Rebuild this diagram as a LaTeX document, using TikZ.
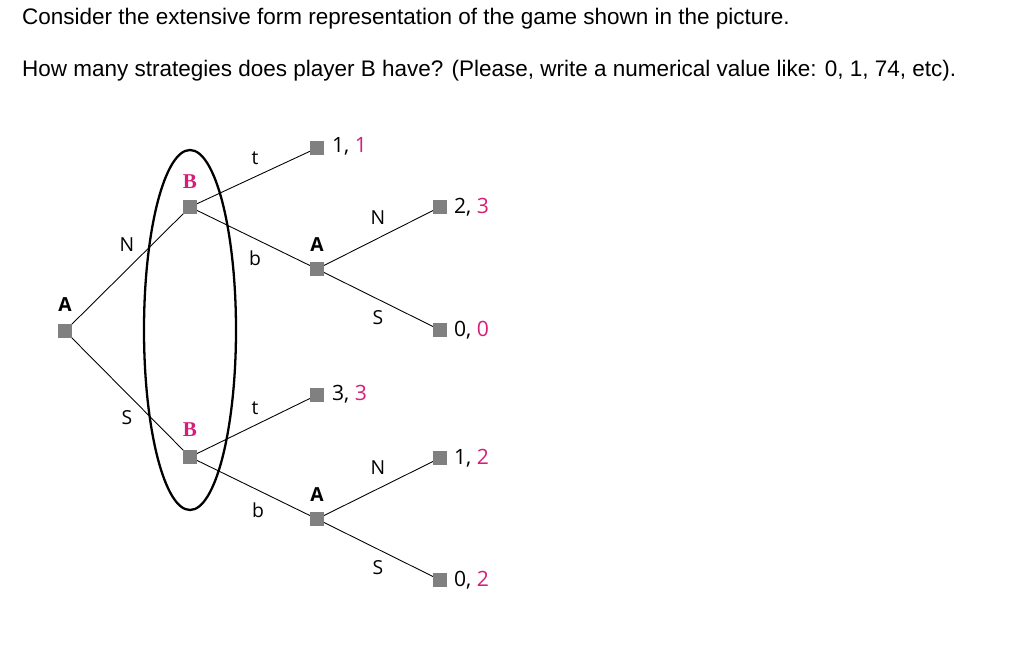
\documentclass[tikz,border=0pt]{standalone}
\usepackage{fontspec}
\setmainfont{Liberation Sans}
\newfontfamily\treefont{Open Sans}
\newfontfamily\serfont{Liberation Serif}
\definecolor{pk}{RGB}{214,30,120}
\definecolor{sq}{RGB}{128,128,128}
\begin{document}
\begin{tikzpicture}[x=0.02cm,y=-0.02cm,
  dec/.style={fill=sq,minimum size=0.28cm,inner sep=0pt},
  lbl/.style={font=\treefont\fontsize{11pt}{13pt}\selectfont},
  pl/.style={font=\treefont\bfseries\fontsize{11pt}{13pt}\selectfont},
  pb/.style={font=\serfont\bfseries\fontsize{12pt}{14pt}\selectfont,text=pk},
  pay/.style={font=\treefont\fontsize{12pt}{14pt}\selectfont,anchor=west,inner sep=1pt},
  edge/.style={line width=0.5pt}]
\useasboundingbox (0,0) rectangle (1024,672);
\node[anchor=west,font=\fontsize{12.8pt}{14pt}\selectfont,inner sep=1pt] (t1) at (20,19) {Consider the extensive form representation of the game shown in the picture.};
\node[anchor=west,font=\fontsize{12.8pt}{14pt}\selectfont,inner sep=1pt] (t2) at (20,71) {How many strategies does player B have? (Please, write a numerical value like: 0, 1, 74, etc).};
\node[dec] (r) at (65,331) {};
\node[dec] (b1) at (190,207) {};
\node[dec] (b2) at (190,457) {};
\node[dec] (l11) at (317,148) {};
\node[dec] (a1) at (317,269) {};
\node[dec] (l23) at (440,207) {};
\node[dec] (l00) at (440,330) {};
\node[dec] (l33) at (317,395) {};
\node[dec] (a2) at (317,519) {};
\node[dec] (l12) at (440,458) {};
\node[dec] (l02) at (440,580) {};
\draw[edge] (r.center)--(b1.center) (r.center)--(b2.center)
 (b1.center)--(l11.center) (b1.center)--(a1.center)
 (a1.center)--(l23.center) (a1.center)--(l00.center)
 (b2.center)--(l33.center) (b2.center)--(a2.center)
 (a2.center)--(l12.center) (a2.center)--(l02.center);
\node[dec] at (r) {};\node[dec] at (b1) {};\node[dec] at (b2) {};
\node[dec] at (a1) {};\node[dec] at (a2) {};
\node[dec] at (l11) {};\node[dec] at (l23) {};\node[dec] at (l00) {};
\node[dec] at (l33) {};\node[dec] at (l12) {};\node[dec] at (l02) {};
\draw[line width=1.3pt] (190,330) ellipse [x radius=46, y radius=180];
\node[pl] (ra) at (65,305) {A};
\node[pb] (bl1) at (190,182) {B};
\node[pb] (bl2) at (190,430) {B};
\node[pl] (al1) at (317,245) {A};
\node[pl] (al2) at (317,495) {A};
\node[lbl] at (127,245) {N};
\node[lbl] at (127,418) {S};
\node[lbl] at (255,158) {t};
\node[lbl] at (255,258) {b};
\node[lbl] at (255,408) {t};
\node[lbl] at (258,510) {b};
\node[lbl] at (378,218) {N};
\node[lbl] at (378,318) {S};
\node[lbl] at (378,468) {N};
\node[lbl] at (378,568) {S};
\node[pay] at (330,146) {1, \textcolor{pk}{1}};
\node[pay] at (452,207) {2, \textcolor{pk}{3}};
\node[pay] at (452,330) {0, \textcolor{pk}{0}};
\node[pay] at (330,394) {3, \textcolor{pk}{3}};
\node[pay] at (452,458) {1, \textcolor{pk}{2}};
\node[pay] at (452,580) {0, \textcolor{pk}{2}};
\end{tikzpicture}
\end{document}
